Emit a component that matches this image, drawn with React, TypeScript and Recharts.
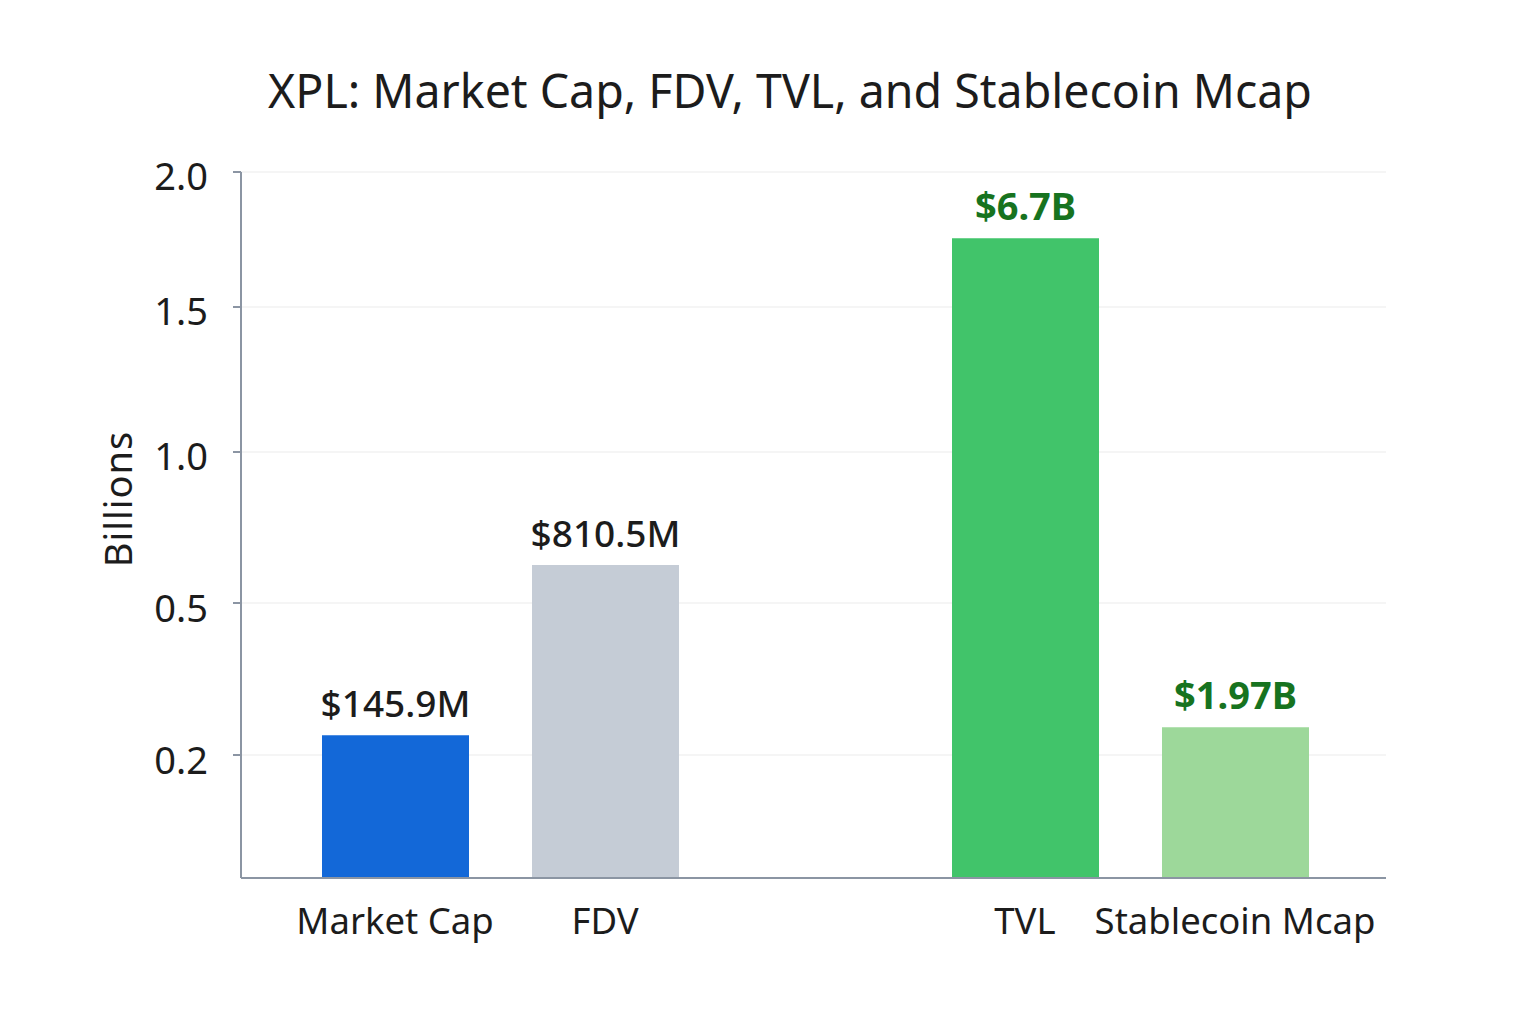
import React from 'react';
import { BarChart, Bar, XAxis, YAxis, CartesianGrid, Cell, LabelList, Label } from 'recharts';

// ---- data ----
const categories = ['Market Cap', 'FDV', '', 'TVL', 'Stablecoin Mcap'];
const values: (number | null)[] = [0.239, 0.626, null, 1.755, 0.255];
const valueLabels = ['$145.9M', '$810.5M', '', '$6.7B', '$1.97B'];
const yTicks = [0.2, 0.5, 1.0, 1.5, 2.0];

// ---- styles ----
const barColors = ['#1368d8', '#c5ccd6', 'transparent', '#41c46a', '#9dd89a'];
const labelColors = ['#1c1c1c', '#1c1c1c', '#1c1c1c', '#17731f', '#17731f'];
const labelWeights = [500, 500, 500, 700, 700];
const labelSizes = [37, 37, 37, 38, 38];
const FONT = '"Noto Sans", "DejaVu Sans", sans-serif';

// Axis drawn with uneven spacing between its ticks, as in the reference.
const knotValues = [0, 0.2, 0.5, 1.0, 1.5, 2.0];
const knotFracs = [0, 0.1742, 0.3895, 0.6034, 0.8088, 1.0];

function makeKnotScale(dom: number[] = [0, 2], rng: number[] = [0, 1]): any {
  let d = dom.slice();
  let r = rng.slice();
  const frac = (v: number) => {
    const n = knotValues.length;
    let i = 0;
    if (v <= knotValues[0]) i = 0;
    else if (v >= knotValues[n - 1]) i = n - 2;
    else {
      while (i < n - 2 && v > knotValues[i + 1]) i++;
    }
    const t = (v - knotValues[i]) / (knotValues[i + 1] - knotValues[i]);
    return knotFracs[i] + t * (knotFracs[i + 1] - knotFracs[i]);
  };
  const scale: any = (v: any) => {
    const num = Number(v);
    if (v == null || isNaN(num)) return NaN;
    return r[0] + frac(num) * (r[1] - r[0]);
  };
  scale.domain = (nd?: number[]) => {
    if (nd === undefined) return d.slice();
    d = nd.slice();
    return scale;
  };
  scale.range = (nr?: number[]) => {
    if (nr === undefined) return r.slice();
    r = nr.slice();
    return scale;
  };
  scale.copy = () => makeKnotScale(d, r);
  scale.ticks = () => yTicks.slice();
  scale.tickFormat = () => (v: number) => String(v);
  scale.nice = () => scale;
  scale.clamp = () => scale;
  scale.invert = (px: number) => {
    const f = (px - r[0]) / (r[1] - r[0]);
    for (let i = 0; i < knotFracs.length - 1; i++) {
      if (f <= knotFracs[i + 1] || i === knotFracs.length - 2) {
        const t = (f - knotFracs[i]) / (knotFracs[i + 1] - knotFracs[i]);
        return knotValues[i] + t * (knotValues[i + 1] - knotValues[i]);
      }
    }
    return 0;
  };
  return scale;
}

const yScale = makeKnotScale();

const data = categories.map((name, i) => ({ name, value: values[i], label: valueLabels[i] }));

const renderValueLabel = (props: any) => {
  const { x, y, width, value } = props;
  if (!value) return null;
  const i = valueLabels.indexOf(String(value));
  return (
    <text
      x={Number(x) + Number(width) / 2}
      y={Number(y) - 18}
      textAnchor="middle"
      fill={labelColors[i]}
      fontSize={labelSizes[i]}
      fontWeight={labelWeights[i]}
      fontFamily={FONT}
    >
      {value}
    </text>
  );
};

const renderYLabel = () => (
  <text
    x={109}
    y={491}
    transform="rotate(-90 109 491)"
    textAnchor="middle"
    dominantBaseline="central"
    fill="#1c1c1c"
    fontSize={38}
    letterSpacing={1}
    fontFamily={FONT}
  >
    Billions
  </text>
);

export default function App() {
  return (
    <div style={{ position: 'relative', width: 1520, height: 1000, background: '#ffffff', fontFamily: FONT }}>
      <div
        style={{
          position: 'absolute',
          left: 0,
          top: 52,
          width: 1564,
          textAlign: 'center',
          fontSize: 46.5,
          color: '#1c1c1c',
          fontFamily: FONT,
          lineHeight: '60px',
          zIndex: 2,
        }}
      >
        XPL: Market Cap, FDV, TVL, and Stablecoin Mcap
      </div>
      <BarChart
        width={1520}
        height={1000}
        data={data}
        margin={{ top: 164, right: 142, bottom: 70, left: 0 }}
      >
        <CartesianGrid vertical={false} stroke="#ebebeb" strokeWidth={1.2} />
        <XAxis
          dataKey="name"
          type="category"
          padding={{ left: 49, right: 46 }}
          tickLine={false}
          tickSize={0}
          tickMargin={30}
          axisLine={{ stroke: '#8b95a3', strokeWidth: 2 }}
          tick={{ fill: '#1c1c1c', fontSize: 36.5, fontFamily: FONT }}
          height={60}
          interval={0}
        />
        <YAxis
          type="number"
          domain={[0, 2]}
          scale={yScale}
          ticks={yTicks}
          tickFormatter={(v: number) => v.toFixed(1)}
          width={233}
          tickSize={8}
          tickMargin={25}
          tickLine={{ stroke: '#8b95a3', strokeWidth: 2 }}
          axisLine={{ stroke: '#8b95a3', strokeWidth: 2 }}
          tick={{ fill: '#1c1c1c', fontSize: 38, fontFamily: FONT, dy: 5 }}
          interval={0}
        >
          <Label content={renderYLabel} />
        </YAxis>
        <Bar dataKey="value" barSize={147} isAnimationActive={false}>
          {data.map((d, i) => (
            <Cell key={d.name + i} fill={barColors[i]} />
          ))}
          <LabelList dataKey="label" content={renderValueLabel} />
        </Bar>
      </BarChart>
    </div>
  );
}
